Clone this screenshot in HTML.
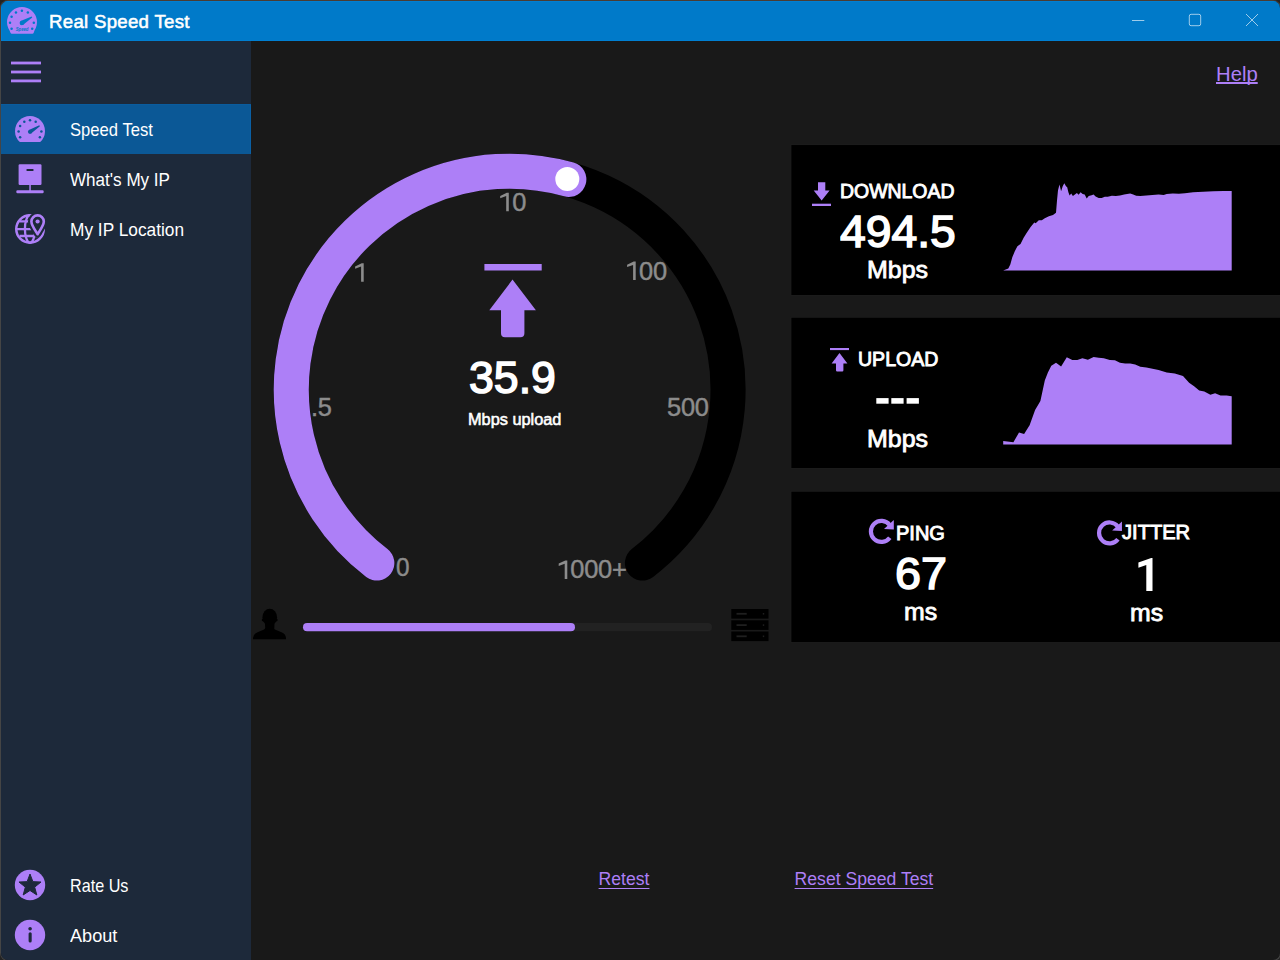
<!DOCTYPE html>
<html>
<head>
<meta charset="utf-8">
<title>Real Speed Test</title>
<style>
  html, body { margin: 0; padding: 0; }
  body {
    width: 1280px; height: 960px; overflow: hidden;
    background: #232323;
    font-family: "Liberation Sans", sans-serif;
    position: relative;
  }
  #win {
    position: absolute; left: 0; top: 0; width: 1281px; height: 961px;
    border-radius: 8px; overflow: hidden; background: #191919;
    box-sizing: border-box; border: 1px solid #454545; border-top-color: #4a3c32;
  }
  #inner { position: absolute; left: -1px; top: -1px; width: 1281px; height: 961px; }
  #frameL { position: absolute; left: 0; top: 7px; width: 1px; height: 34px; background: #4a3c32; z-index: 11; }
  #titlebar { position: absolute; left: 0; top: 0; width: 1281px; height: 41px; background: #007ac9; box-shadow: inset 2px 2px 0 0 #007fd2, inset 0 -1px 0 0 #007fd2; }
  #sidebar { position: absolute; left: 0; top: 41px; width: 251px; height: 919px; background: #1d293a; }
  #navsel { position: absolute; left: 0; top: 104px; width: 251px; height: 50px; background: #0b5896; box-shadow: inset 0 1px 0 0 #0a5c9e, inset -1px 0 0 0 #0a5fa4; }
  .t { position: absolute; white-space: nowrap; line-height: 1; color: #fff; }
  .nav { font-size: 17.8px; left: 70px; transform-origin: 0 0; }
  .lnk { color: #ad7ff7; text-decoration: underline; text-decoration-thickness: 1.2px; text-underline-offset: 2.6px; text-decoration-skip-ink: none; font-size: 17.6px; }
  .gl { color: #8c8c8c; font-size: 25.4px; -webkit-text-stroke: 0.45px #8c8c8c; letter-spacing: -0.2px; }
  .gl i { color: transparent; -webkit-text-stroke: 0 transparent; font-style: normal; }
  .b { font-weight: normal; -webkit-text-stroke: 0.034em #fff; transform-origin: 0 0; }
  svg { position: absolute; left: 0; top: 0; overflow: visible; }
</style>
</head>
<body>
<div id="frameL"></div>
<div id="win">
  <div id="inner">
  <div id="titlebar"></div>
  <div id="sidebar"></div>
  <div id="navsel"></div>

  <!-- panels -->

  <!-- main vector layer -->
  <svg id="vec" width="1280" height="960" viewBox="0 0 1280 960">
    <rect x="790.5" y="144.2" width="491" height="151.6" fill="#1d1d1d"/><rect x="790.5" y="316.9" width="491" height="151.9" fill="#1d1d1d"/><rect x="790.5" y="490.9" width="491" height="152" fill="#1d1d1d"/><rect x="791.35" y="145.05" width="490" height="149.95" fill="#000"/><rect x="791.35" y="317.7" width="490" height="150.3" fill="#000"/><rect x="791.35" y="491.7" width="490" height="150.35" fill="#000"/>
    <!-- gauge track -->
    <path id="track" d="M376.85,562.98 A218.4,218.4 0 1 1 642.45,562.98" fill="none" stroke="#000" stroke-width="35.1" stroke-linecap="round"/>
    <path id="prog" d="M376.85,562.98 A218.4,218.4 0 0 1 568.83,179.37" fill="none" stroke="#ad7ff7" stroke-width="35.1" stroke-linecap="round"/>
    <circle cx="567.3" cy="178.9" r="12" fill="#fff"/>
    <!--VEC-->
    <g id="ticon"><path d="M9.3,30 A15,15 0 1 1 34.7,30 L33.6,33 Q33.3,33.75 32.5,33.75 L11.7,33.75 Q10.9,33.75 10.6,33 Z" fill="#ad7ff7"/><circle cx="11.59" cy="28.65" r="1.25" fill="#007ac9"/><circle cx="10.00" cy="22.70" r="1.25" fill="#007ac9"/><circle cx="11.59" cy="16.75" r="1.25" fill="#007ac9"/><circle cx="15.95" cy="12.39" r="1.25" fill="#007ac9"/><circle cx="21.90" cy="10.80" r="1.25" fill="#007ac9"/><circle cx="27.85" cy="12.39" r="1.25" fill="#007ac9"/><circle cx="33.80" cy="22.70" r="1.25" fill="#007ac9"/><circle cx="32.21" cy="28.65" r="1.25" fill="#007ac9"/><circle cx="21.8" cy="23.0" r="2.2" fill="#007ac9"/><path d="M22.93,24.89 L32.22,17.44 L31.61,16.41 L20.67,21.11 Z" fill="#007ac9"/><text x="22.1" y="31.2" font-family="Liberation Sans, sans-serif" font-size="4.9" font-weight="bold" font-style="italic" text-anchor="middle" fill="#007ac9" textLength="12.6" lengthAdjust="spacingAndGlyphs">Speed</text></g>
    <rect x="11" y="61.6" width="30" height="2.8" fill="#ad7ff7"/>
    <rect x="11" y="70.6" width="30" height="2.8" fill="#ad7ff7"/>
    <rect x="11" y="79.5" width="30" height="2.8" fill="#ad7ff7"/>
    <g id="nicon1"><path d="M19.80,142.00 A15,15 0 1 1 40.20,142.00 Z" fill="#ad7ff7"/><circle cx="20.13" cy="137.30" r="1.25" fill="#0b5896"/><circle cx="18.60" cy="131.60" r="1.25" fill="#0b5896"/><circle cx="20.13" cy="125.90" r="1.25" fill="#0b5896"/><circle cx="24.30" cy="121.73" r="1.25" fill="#0b5896"/><circle cx="30.00" cy="120.20" r="1.25" fill="#0b5896"/><circle cx="35.70" cy="121.73" r="1.25" fill="#0b5896"/><circle cx="41.40" cy="131.60" r="1.25" fill="#0b5896"/><circle cx="39.87" cy="137.30" r="1.25" fill="#0b5896"/><circle cx="30.00" cy="131.80" r="2.1" fill="#0b5896"/><path d="M31.08,133.60 L39.91,126.35 L39.29,125.32 L28.92,130.00 Z" fill="#0b5896"/></g>
    <g id="nicon2"><rect x="18.6" y="164.2" width="22.9" height="20.8" rx="1.2" fill="#ad7ff7"/><rect x="26.3" y="169" width="7.4" height="2.1" rx="1" fill="#1d293a"/><rect x="29.3" y="184" width="1.5" height="7" fill="#ad7ff7"/><rect x="16.3" y="190.3" width="27.4" height="3.0" rx="1.2" fill="#ad7ff7"/></g>
    <g id="nicon3" fill="none" stroke="#ad7ff7" stroke-width="2.5">
<circle cx="30" cy="229" r="13.75"/>
<ellipse cx="30" cy="229" rx="5.1" ry="13.75" stroke-width="2.3"/>
<path d="M16.5,229.1 H43.5 M19.5,221.4 H40.5 M19.5,236 H40.5" stroke-width="2.3"/>
<path d="M37.6,234.2 C34.6,229.6 31.4,225.4 31.4,221.6 A6.2,6.2 0 0 1 43.8,221.6 C43.8,225.4 40.6,229.6 37.6,234.2 Z" fill="#1d293a" stroke="#1d293a" stroke-width="6.8" stroke-linejoin="round"/>
<path d="M37.6,234.2 C34.6,229.6 31.4,225.4 31.4,221.6 A6.2,6.2 0 0 1 43.8,221.6 C43.8,225.4 40.6,229.6 37.6,234.2 Z" stroke-width="2.6" stroke-linejoin="round"/>
<circle cx="37.6" cy="221.5" r="2.1" fill="#ad7ff7" stroke="none"/>
</g>
    <circle cx="30" cy="885" r="15.2" fill="#ad7ff7"/><polygon points="30.00,874.00 32.88,881.64 41.03,882.02 34.66,887.11 36.82,894.98 30.00,890.50 23.18,894.98 25.34,887.11 18.97,882.02 27.12,881.64" fill="#1d293a" stroke="#1d293a" stroke-width="1" stroke-linejoin="round"/>
    <circle cx="30" cy="935" r="15.2" fill="#ad7ff7"/><circle cx="30.1" cy="928.7" r="1.8" fill="#1d293a"/><rect x="28.6" y="932.2" width="3.1" height="10.2" rx="1.5" fill="#1d293a"/>
    <g stroke="#fff" stroke-opacity="0.62" stroke-width="1" fill="none"><path d="M1132,20.5 H1144.3"/><rect x="1189.3" y="14.3" width="11.4" height="11.4" rx="1.8"/><path d="M1246,14 L1258,26 M1258,14 L1246,26"/></g>
    <rect x="484.4" y="264" width="57.3" height="6.5" fill="#ad7ff7"/><path d="M512.5,279.6 L535.9,310.2 L524.4,310.2 L524.4,333.3 Q524.4,337.3 520.4,337.3 L505,337.3 Q501,337.3 501,333.3 L501,310.2 L489.3,310.2 Z" fill="#ad7ff7"/>
    <rect x="303" y="623.1" width="409" height="8.2" rx="4.1" fill="#222"/><rect x="303" y="623.1" width="272" height="8.2" rx="4.1" fill="#ad7ff7"/>
    <g fill="#000"><ellipse cx="269.75" cy="617.2" rx="7.3" ry="8.5"/><ellipse cx="269.7" cy="620" rx="8.1" ry="2.6"/><path d="M265,624 L265.2,628 Q265,629.3 263.5,629.8 L257.5,632.2 Q253.2,634 253,638 L253,639.3 L286,639.3 L286,638 Q285.8,634 281.5,632.2 L275.5,629.8 Q274,629.3 274.3,628 L274.5,624 Z"/></g>
    <rect x="731.3" y="609" width="37.2" height="9.6" fill="#000"/><rect x="736.5" y="612.9" width="10.2" height="1.8" fill="#1f1f1f"/><rect x="762.8" y="613" width="1.4" height="1.6" fill="#1f1f1f"/><rect x="731.3" y="620.3" width="37.2" height="9.6" fill="#000"/><rect x="736.5" y="624.1999999999999" width="10.2" height="1.8" fill="#1f1f1f"/><rect x="762.8" y="624.3" width="1.4" height="1.6" fill="#1f1f1f"/><rect x="731.3" y="631.5" width="37.2" height="9.6" fill="#000"/><rect x="736.5" y="635.4" width="10.2" height="1.8" fill="#1f1f1f"/><rect x="762.8" y="635.5" width="1.4" height="1.6" fill="#1f1f1f"/>
    <path d="M818,182.2 H825.3 V190.6 H829.6 L821.65,200.6 L813.7,190.6 H818 Z" fill="#ad7ff7"/><rect x="812" y="203.7" width="19" height="2.3" fill="#ad7ff7"/>
    <rect x="830" y="348" width="19" height="2.1" fill="#ad7ff7"/><path d="M839.5,353 L847.4,363.4 L843.4,363.4 L843.4,370.3 Q843.4,371.5 842.2,371.5 L837.2,371.5 Q836,371.5 836,370.3 L836,363.4 L831.6,363.4 Z" fill="#ad7ff7"/>
    <rect x="876.3" y="398.1" width="12.3" height="5.6" fill="#fff"/>
    <rect x="891.3" y="398.1" width="12.3" height="5.6" fill="#fff"/>
    <rect x="906.6" y="398.1" width="12.3" height="5.6" fill="#fff"/>
    <path d="M1003.2,270.5 L1008.3,268.5 L1010.3,264.5 L1012.3,257.3 L1014.8,251.2 L1017.4,246.2 L1020.5,244.1 L1023.5,238.0 L1026.6,233.0 L1030.6,226.9 L1034.3,222.4 L1035.7,223.2 L1038.8,220.2 L1041.8,220.2 L1044.8,218.3 L1048.9,216.3 L1053.0,215.1 L1056.0,212.7 L1057.0,200.5 L1058.0,190.3 L1059.5,184.6 L1061.1,191.3 L1062.7,186.2 L1064.3,183.2 L1066.0,186.2 L1067.2,187.3 L1068.4,192.3 L1069.6,195.4 L1071.2,193.4 L1072.9,196.0 L1074.9,194.4 L1076.9,193.0 L1078.6,194.8 L1080.6,192.3 L1082.6,194.0 L1084.7,194.4 L1086.7,198.4 L1088.7,196.0 L1091.6,195.2 L1093.6,194.4 L1095.6,196.4 L1098.7,198.0 L1101.7,198.0 L1104.8,196.8 L1107.8,196.8 L1111.9,195.8 L1115.9,196.0 L1120.0,195.6 L1124.1,194.4 L1130.2,193.4 L1133.2,194.4 L1136.2,195.8 L1140.3,196.0 L1146.4,195.6 L1152.5,195.0 L1158.6,194.4 L1163.7,195.0 L1166.7,194.0 L1172.8,193.6 L1178.9,193.8 L1185.0,193.2 L1193.1,192.3 L1203.3,191.7 L1213.4,191.3 L1223.6,190.9 L1231.7,190.9 L1231.7,270.5Z" fill="#ad7ff7"/>
    <path d="M1003.2,441.0 L1013.4,442.2 L1019.0,432.4 L1024.1,434.0 L1029.6,425.3 L1035.1,410.1 L1040.4,400.9 L1044.8,380.6 L1047.9,372.5 L1051.3,365.8 L1056.0,362.8 L1061.1,366.4 L1066.8,357.3 L1072.3,359.9 L1077.3,359.9 L1082.4,358.3 L1087.9,359.7 L1093.6,356.9 L1098.7,357.7 L1103.8,358.3 L1109.8,359.9 L1114.9,360.3 L1120.0,362.8 L1125.1,363.4 L1130.2,363.4 L1135.2,364.4 L1140.3,366.8 L1146.4,367.4 L1152.5,368.8 L1158.6,370.1 L1166.7,372.5 L1174.8,373.5 L1183.0,376.0 L1189.1,382.7 L1194.1,386.3 L1199.2,390.4 L1204.3,391.4 L1210.4,394.8 L1215.1,393.2 L1220.5,395.5 L1226.6,395.5 L1231.7,396.3 L1231.7,444.6 L1003.2,444.6Z" fill="#ad7ff7"/>
    <path d="M889.67,524.94 A10.5,10.5 0 1 0 889.79,537.72" fill="none" stroke="#ad7ff7" stroke-width="4.2"/><polygon points="893.80,520.00 893.80,529.40 884.00,529.00" fill="#ad7ff7"/>
    <path d="M1117.82,526.49 A10.5,10.5 0 1 0 1117.94,539.27" fill="none" stroke="#ad7ff7" stroke-width="4.2"/><polygon points="1121.95,521.55 1121.95,530.95 1112.15,530.55" fill="#ad7ff7"/>
    <polygon id="jtv1" points="1152.5,558 1152.5,591 1146.3,591 1146.3,565 1138.4,567.8 1138.4,562.4 1151.2,558" fill="#fff"/>
    <polygon points="508.80,192.80 508.80,211.30 506.20,211.30 506.20,196.10 500.20,198.30 500.20,196.00 506.80,192.80" fill="#8c8c8c"/><polygon points="363.70,263.30 363.70,281.80 361.10,281.80 361.10,266.60 355.10,268.80 355.10,266.50 361.70,263.30" fill="#8c8c8c"/><polygon points="635.70,261.60 635.70,280.10 633.10,280.10 633.10,264.90 627.10,267.10 627.10,264.80 633.70,261.60" fill="#8c8c8c"/><polygon points="567.30,560.40 567.30,578.90 564.70,578.90 564.70,563.70 558.70,565.90 558.70,563.60 565.30,560.40" fill="#8c8c8c"/>
    <!--/VEC-->
  </svg>

  <!-- text -->
  <div class="t" id="title" style="left:49px; top:13.2px; font-size:18.6px; -webkit-text-stroke:0.55px #fff; letter-spacing:0.31px;">Real Speed Test</div>
  <div class="t nav" id="n1" style="top:121.5px; transform:scaleX(0.935);">Speed Test</div>
  <div class="t nav" id="n2" style="top:171.5px; transform:scaleX(0.96);">What's My IP</div>
  <div class="t nav" id="n3" style="top:221.5px; transform:scaleX(0.972);">My IP Location</div>
  <div class="t nav" id="n4" style="top:877.5px; transform:scaleX(0.91);">Rate Us</div>
  <div class="t nav" id="n5" style="top:927.5px; transform:scaleX(1.02);">About</div>

  <div class="t lnk" id="help" style="left:1216px; top:64.2px; font-size:20.3px; text-underline-offset:1.3px; text-decoration-thickness:1.6px;">Help</div>
  <div class="t lnk" id="retest" style="left:598.6px; top:870.8px;">Retest</div>
  <div class="t lnk" id="reset" style="left:794.6px; top:870.8px;">Reset Speed Test</div>

  <div class="t gl" id="g10" style="left:498.3px; top:190px;"><i>1</i>0</div>
  <div class="t gl" id="g1" style="left:352.6px; top:260.3px;"><i>1</i></div>
  <div class="t gl" id="g100" style="left:625.2px; top:259px;"><i>1</i>00</div>
  <div class="t gl" id="g5" style="left:311px; top:395px;">.5</div>
  <div class="t gl" id="g500" style="left:667px; top:395px;">500</div>
  <div class="t gl" id="g0" style="left:395.6px; top:554.8px; transform:scaleX(0.96); transform-origin:0 0;">0</div>
  <div class="t gl" id="g1000" style="left:556.3px; top:557.3px;"><i>1</i>000+</div>

  <div class="t b" id="big" style="left:469.3px; top:356.2px; font-size:44.2px; transform:scaleX(1.01);">35.9</div>
  <div class="t b" id="mbu" style="left:468px; top:412.3px; font-size:16px; transform:scaleX(1.02);">Mbps upload</div>

  <div class="t b" id="dl" style="left:839.7px; top:181.2px; font-size:20px; transform:scaleX(0.972); -webkit-text-stroke-width:0.046em;">DOWNLOAD</div>
  <div class="t b" id="dlv" style="left:839.8px; top:210.2px; font-size:44.5px; transform:scaleX(1.04);">494.5</div>
  <div class="t b" id="dlu" style="left:867px; top:258px; font-size:24px; transform:scaleX(1.04);">Mbps</div>

  <div class="t b" id="ul" style="left:857.5px; top:348.5px; font-size:20px; transform:scaleX(0.977); -webkit-text-stroke-width:0.046em;">UPLOAD</div>
  <div class="t b" id="ulu" style="left:867px; top:427px; font-size:24px; transform:scaleX(1.04);">Mbps</div>

  <div class="t b" id="pg" style="left:896px; top:523.1px; font-size:20px; -webkit-text-stroke-width:0.046em;">PING</div>
  <div class="t b" id="pgv" style="left:895px; top:551.7px; font-size:44.5px; transform:scaleX(1.05);">67</div>
  <div class="t b" id="pgu" style="left:903.8px; top:599.5px; font-size:24px; transform:scaleX(1.035);">ms</div>

  <div class="t b" id="jt" style="left:1122.3px; top:522.3px; font-size:20px; transform:scaleX(1.005); -webkit-text-stroke-width:0.046em;">JITTER</div>
  <div class="t b" id="jtu" style="left:1130.3px; top:600.7px; font-size:24px; transform:scaleX(1.035);">ms</div>
  </div>
</div>
</body>
</html>
